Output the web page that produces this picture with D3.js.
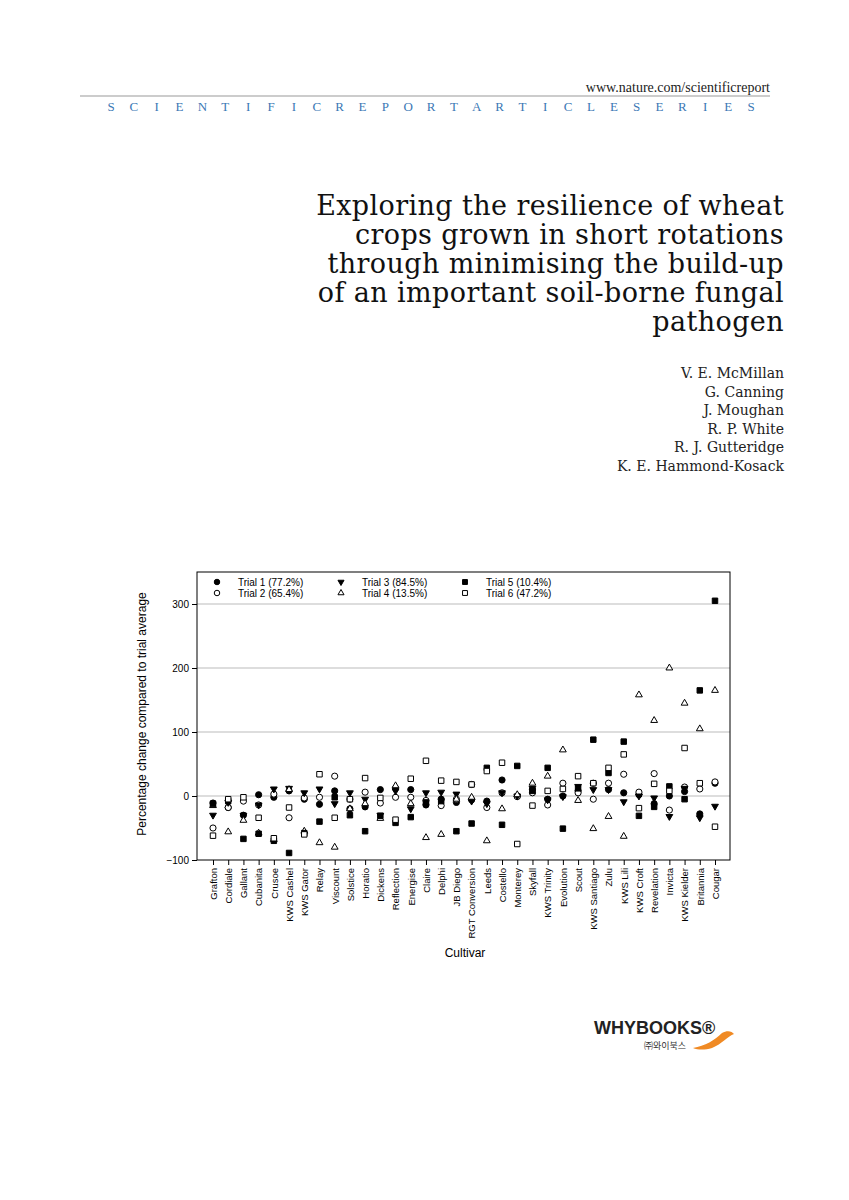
<!DOCTYPE html>
<html lang="en">
<head>
<meta charset="UTF-8">
<title>Wheat cultivars</title>
<style>
  body { margin: 0; background: #fff; }
  .serif { font-family: "Liberation Serif", "DejaVu Serif", serif; }
  .sans { font-family: "Liberation Sans", Arial, sans-serif; }
</style>
</head>
<body>
<svg width="849" height="1200"></svg>
<script src="https://d3js.org/d3.v7.min.js"></script>
<script>
var cultivars = ["Grafton","Cordiale","Gallant","Cubanita","Crusoe","KWS Cashel","KWS Gator","Relay",
  "Viscount","Solstice","Horatio","Dickens","Reflection","Energise","Claire","Delphi","JB Diego",
  "RGT Conversion","Leeds","Costello","Monterey","Skyfall","KWS Trinity","Evolution","Scout",
  "KWS Santiago","Zulu","KWS Lili","KWS Croft","Revelation","Invicta","KWS Kielder","Britannia","Cougar"];

var trial1 = [-11,-18,-30,2,-2,8,-5,-13,8,-20,-17,10,12,10,-14,-5,-10,-6,-8,25,0,10,-5,0,8,20,10,5,2,-12,0,7,-28,20];
var trial2 = [-50,-18,-8,-14,3,-34,-3,-2,31,-5,6,-11,-2,-2,-7,-15,-5,18,-18,5,-1,5,-14,20,5,-5,20,34,6,35,-22,14,11,22];
var trial3 = [-30,-10,-30,-14,11,12,5,11,-12,5,-5,-30,8,-20,5,6,3,-8,-12,5,0,12,-6,-1,15,10,10,-9,0,-3,-32,12,-34,-16];
var trial4 = [-15,-56,-38,-58,-68,10,-55,-73,-80,-20,-12,-35,16,-12,-65,-60,-5,-2,-70,-20,2,20,31,72,-7,-51,-32,-63,158,118,200,145,105,165];
var trial5 = [-12,-8,-67,-59,-70,-89,-58,-40,-2,-30,-55,-31,-42,-33,-10,-8,-55,-43,44,-45,47,8,44,-51,12,88,36,85,-31,-17,15,-5,165,305];
var trial6 = [-62,-5,-2,-34,-66,-18,-60,34,-34,-5,28,-3,-37,27,55,24,22,18,39,52,-75,-15,8,11,31,20,44,65,-19,19,8,75,20,-48];

var trials = [
  {name: "Trial 1 (77.2%)", values: trial1, shape: d3.symbolCircle, fill: "#000"},
  {name: "Trial 2 (65.4%)", values: trial2, shape: d3.symbolCircle, fill: "#fff"},
  {name: "Trial 3 (84.5%)", values: trial3, shape: "down", fill: "#000"},
  {name: "Trial 4 (13.5%)", values: trial4, shape: d3.symbolTriangle, fill: "#fff"},
  {name: "Trial 5 (10.4%)", values: trial5, shape: d3.symbolSquare, fill: "#000"},
  {name: "Trial 6 (47.2%)", values: trial6, shape: d3.symbolSquare, fill: "#fff"}
];
var yTicks = [-100, 0, 100, 200, 300];

var svg = d3.select("svg");

// header
svg.append("text").attr("class", "serif").attr("x", 770).attr("y", 92)
  .attr("text-anchor", "end").attr("font-size", 14).attr("fill", "#222")
  .text("www.nature.com/scientificreport");
svg.append("line").attr("x1", 80).attr("x2", 770).attr("y1", 96).attr("y2", 96)
  .attr("stroke", "#999").attr("stroke-width", 1);
var series = "SCIENTIFICREPORTARTICLESERIES".split("");
svg.append("g").selectAll("text").data(series).enter().append("text")
  .attr("class", "serif").attr("font-size", 13).attr("fill", "#3b78b5")
  .attr("text-anchor", "middle")
  .attr("x", function (d, i) { return 111 + i * (640 / (series.length - 1)); })
  .attr("y", 111).text(function (d) { return d; });

var title = ["Exploring the resilience of wheat", "crops grown in short rotations",
  "through minimising the build-up", "of an important soil-borne fungal", "pathogen"];
svg.append("g").selectAll("text").data(title).enter().append("text")
  .attr("font-family", "DejaVu Serif, serif").attr("font-weight", 300).attr("font-size", 27)
  .attr("letter-spacing", 0.4).attr("fill", "#111")
  .attr("text-anchor", "end").attr("x", 784)
  .attr("y", function (d, i) { return 215 + i * 29; }).text(function (d) { return d; });

var authors = ["V. E. McMillan", "G. Canning", "J. Moughan", "R. P. White", "R. J. Gutteridge", "K. E. Hammond-Kosack"];
svg.append("g").selectAll("text").data(authors).enter().append("text")
  .attr("font-family", "DejaVu Serif, serif").attr("font-size", 14).attr("fill", "#222")
  .attr("text-anchor", "end").attr("x", 784)
  .attr("y", function (d, i) { return 378 + i * 18.6; }).text(function (d) { return d; });

// chart
var pLeft = 197, pRight = 730, pTop = 572, pBottom = 860;
var x = d3.scalePoint().domain(cultivars).range([pLeft + 16, pRight - 15]);
var y = d3.scaleLinear().domain([-100, 350]).range([pBottom, pTop]);

var g = svg.append("g");
g.selectAll(".grid").data(yTicks.filter(function (d) { return d > -100; })).enter().append("line")
  .attr("x1", pLeft).attr("x2", pRight)
  .attr("y1", function (d) { return y(d); }).attr("y2", function (d) { return y(d); })
  .attr("stroke", "#bbb").attr("stroke-width", 1);
g.append("rect").attr("x", pLeft).attr("y", pTop).attr("width", pRight - pLeft).attr("height", pBottom - pTop)
  .attr("fill", "none").attr("stroke", "#000").attr("stroke-width", 1);

var yAxis = g.append("g").attr("transform", "translate(" + pLeft + ",0)")
  .call(d3.axisLeft(y).tickValues(yTicks).tickSize(5).tickSizeOuter(0));
yAxis.select(".domain").remove();
yAxis.selectAll("text").attr("font-size", 10).attr("font-family", "Liberation Sans, Arial, sans-serif");

var xAxis = g.append("g").attr("transform", "translate(0," + pBottom + ")")
  .call(d3.axisBottom(x).tickSize(5).tickSizeOuter(0));
xAxis.select(".domain").remove();
xAxis.selectAll("text")
  .attr("font-size", 9.5).attr("font-family", "Liberation Sans Narrow, Liberation Sans, Arial, sans-serif")
  .attr("transform", "rotate(-90)").attr("text-anchor", "end")
  .attr("x", -8).attr("y", 0).attr("dy", "0.35em");

function symbolSize(shape) {
  if (shape === d3.symbolSquare) return 30;
  if (shape === d3.symbolCircle) return 30;
  return 20;
}

trials.forEach(function (t) {
  var type = t.shape === "down" ? d3.symbolTriangle : t.shape;
  g.append("g").selectAll("path").data(t.values).enter().append("path")
    .attr("d", d3.symbol().type(type).size(symbolSize(t.shape))())
    .attr("transform", function (d, i) {
      return "translate(" + x(cultivars[i]) + "," + y(d) + ")" + (t.shape === "down" ? " rotate(180)" : "");
    })
    .attr("fill", t.fill).attr("stroke", "#000").attr("stroke-width", 1);
});

// legend
var legend = g.append("g").selectAll("g").data(trials).enter().append("g")
  .attr("transform", function (d, i) {
    return "translate(" + (217 + Math.floor(i / 2) * 124) + "," + (582 + (i % 2) * 11) + ")";
  });
legend.append("path")
  .attr("d", function (d) {
    var type = d.shape === "down" ? d3.symbolTriangle : d.shape;
    return d3.symbol().type(type).size(symbolSize(d.shape) * 0.8)();
  })
  .attr("transform", function (d) { return d.shape === "down" ? "rotate(180)" : null; })
  .attr("fill", function (d) { return d.fill; }).attr("stroke", "#000");
legend.append("text").attr("x", 21).attr("dy", "0.35em").attr("font-size", 10)
  .attr("font-family", "Liberation Sans, Arial, sans-serif")
  .text(function (d) { return d.name; });

svg.append("text").attr("font-size", 12).attr("font-family", "Liberation Sans Narrow, Liberation Sans, Arial, sans-serif")
  .attr("text-anchor", "middle").attr("transform", "translate(146," + ((pTop + pBottom) / 2 - 2) + ") rotate(-90)")
  .text("Percentage change compared to trial average");
svg.append("text").attr("class", "sans").attr("font-size", 12).attr("text-anchor", "middle")
  .attr("x", 465).attr("y", 957).text("Cultivar");

// logo
svg.append("text").attr("class", "sans").attr("font-weight", "bold").attr("font-size", 18)
  .attr("x", 594).attr("y", 1034).attr("fill", "#222").text("WHYBOOKS®");
svg.append("text").attr("font-family", "Noto Sans CJK KR, sans-serif").attr("font-size", 9)
  .attr("x", 644).attr("y", 1049).attr("fill", "#333").text("㈜와이북스");
svg.append("path").attr("d", "M693,1048 C705,1046 715,1040 722,1033 C727,1030 732,1031 734,1034 C728,1036 722,1044 712,1048 C705,1050 698,1050 693,1048 Z")
  .attr("fill", "#f08a24");
</script>
</body>
</html>
